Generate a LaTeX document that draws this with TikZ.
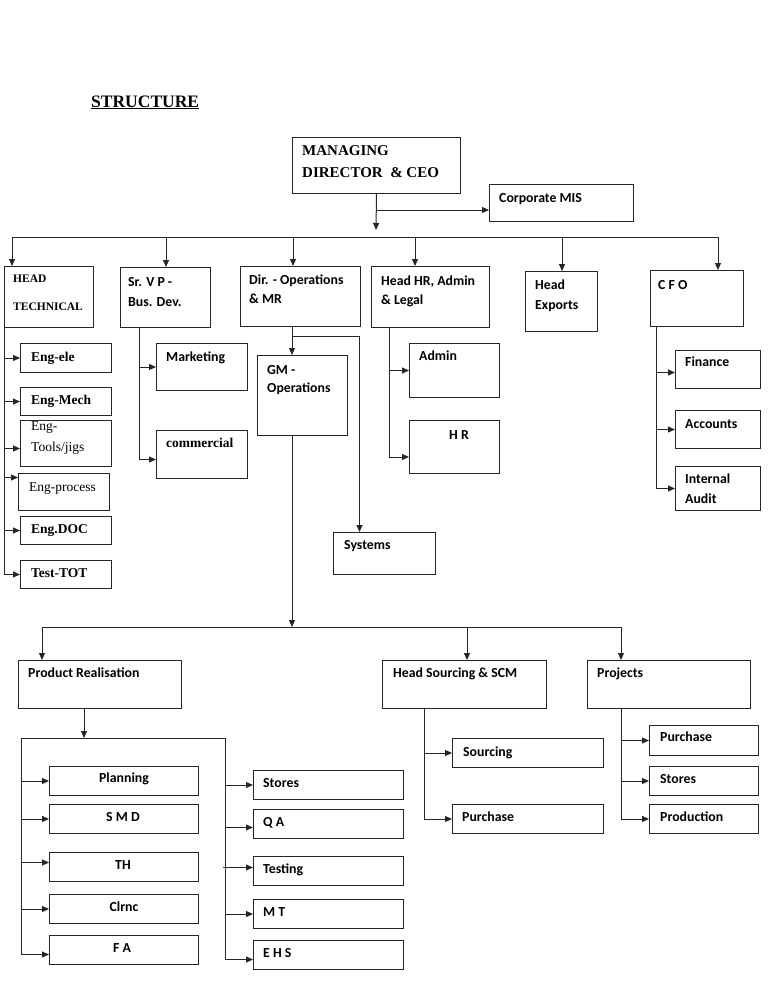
\documentclass[tikz,border=0pt]{standalone}
\usepackage{fontspec}
\setmainfont{Liberation Serif}
\newfontfamily\carlito{Carlito}
\usetikzlibrary{arrows.meta}
\tikzset{
  box/.style={draw=black!85, line width=1pt, anchor=north west, inner sep=0pt},
  ln/.style={draw=black!85, line width=1pt},
  arr/.style={ln, -{Triangle[length=7pt,width=6pt]}},
  txt/.style={anchor=base west, align=left, inner sep=0pt},
  cb/.style={txt, font=\carlito\bfseries\fontsize{13.8}{19.5}\selectfont},
  tb/.style={txt, font=\bfseries\fontsize{13.5}{21}\selectfont},
  tr/.style={txt, font=\fontsize{13.5}{21}\selectfont},
}
\begin{document}
\begin{tikzpicture}[x=1pt,y=-1pt]
    \useasboundingbox (0,0) rectangle (768,994);
    \node [txt, font=\bfseries\fontsize{17.5}{20}\selectfont] (title) at (91,107) {\underline{STRUCTURE}};
    % top level
    \node [box, minimum width=168pt, minimum height=56pt] (md) at (292,137) {};
    \node [txt, font=\bfseries\fontsize{15}{22}\selectfont] (md-t) at (302,177) {MANAGING\\DIRECTOR\ \ \& CEO};
    \node [box, minimum width=144pt, minimum height=37pt] (mis) at (489,184) {};
    \node [cb] (mis-t) at (499,202) {Corporate MIS};
    \node [box, minimum width=89pt, minimum height=61pt] (ht) at (4,266) {};
    \node [txt, font=\bfseries\fontsize{11.5}{28}\selectfont] (ht-t) at (13,310) {HEAD\\TECHNICAL};
    \node [box, minimum width=90pt, minimum height=60pt] (svp) at (120,267) {};
    \node [cb, font=\carlito\bfseries\fontsize{13.8}{20}\selectfont] (svp-t) at (128,306) {Sr. V P -\\Bus. Dev.};
    \node [box, minimum width=120pt, minimum height=60pt] (dop) at (240,266) {};
    \node [cb] (dop-t) at (249,303.5) {Dir. - Operations\\\& MR};
    \node [box, minimum width=118pt, minimum height=61pt] (hhr) at (371,266) {};
    \node [cb] (hhr-t) at (381,304.5) {Head HR, Admin\\\& Legal};
    \node [box, minimum width=72pt, minimum height=60pt] (hex) at (525,271) {};
    \node [cb, font=\carlito\bfseries\fontsize{13.8}{20}\selectfont] (hex-t) at (535,309) {Head\\Exports};
    \node [box, minimum width=93pt, minimum height=56pt] (cfo) at (650,270) {};
    \node [cb] (cfo-t) at (658,289) {C F O};
    % technical
    \node [box, minimum width=91pt, minimum height=29pt] (ele) at (20,343) {};
    \node [tb] (ele-t) at (31,361) {Eng-ele};
    \node [box, minimum width=91pt, minimum height=28pt] (mech) at (20,387) {};
    \node [tb] (mech-t) at (31,404) {Eng-Mech};
    \node [box, minimum width=91pt, minimum height=46pt] (tools) at (20,420) {};
    \node [tr] (tools-t) at (31,451) {Eng-\\Tools/jigs};
    \node [box, minimum width=91pt, minimum height=37pt] (proc) at (18,473) {};
    \node [tr] (proc-t) at (29,491) {Eng-process};
    \node [box, minimum width=91pt, minimum height=28pt] (doc) at (20,516) {};
    \node [tb] (doc-t) at (31,533) {Eng.DOC};
    \node [box, minimum width=91pt, minimum height=28pt] (tot) at (20,560) {};
    \node [tb] (tot-t) at (31,577) {Test-TOT};
    % bus. dev.
    \node [box, minimum width=91pt, minimum height=47pt] (mkt) at (156,343) {};
    \node [cb] (mkt-t) at (166,361.5) {Marketing};
    \node [box, minimum width=91pt, minimum height=48pt] (com) at (156,430) {};
    \node [tb] (com-t) at (166,447) {commercial};
    % operations
    \node [box, minimum width=90pt, minimum height=80pt] (gmo) at (257,355) {};
    \node [cb, font=\carlito\bfseries\fontsize{13.8}{18}\selectfont] (gmo-t) at (267,392.5) {GM -\\Operations};
    \node [box, minimum width=102pt, minimum height=42pt] (sys) at (333,532) {};
    \node [cb] (sys-t) at (344,549.5) {Systems};
    % hr
    \node [box, minimum width=90pt, minimum height=54pt] (adm) at (409,343) {};
    \node [cb] (adm-t) at (419,360.5) {Admin};
    \node [box, minimum width=90pt, minimum height=53pt] (hr) at (409,420) {};
    \node [cb, anchor=base] (hr-t) at (459,439.5) {H R};
    % cfo
    \node [box, minimum width=85pt, minimum height=38pt] (fin) at (675,350) {};
    \node [cb] (fin-t) at (685,366.5) {Finance};
    \node [box, minimum width=85pt, minimum height=38pt] (acc) at (675,410) {};
    \node [cb] (acc-t) at (685,428.5) {Accounts};
    \node [box, minimum width=85pt, minimum height=44pt] (ia) at (675,466) {};
    \node [cb, font=\carlito\bfseries\fontsize{13.8}{20}\selectfont] (ia-t) at (685,503.5) {Internal\\Audit};
    % under gm operations
    \node [box, minimum width=163pt, minimum height=48pt] (pr) at (18,660) {};
    \node [cb] (pr-t) at (28,677) {Product Realisation};
    \node [box, minimum width=164pt, minimum height=48pt] (hs) at (382,660) {};
    \node [cb] (hs-t) at (393,677.5) {Head Sourcing \& SCM};
    \node [box, minimum width=163pt, minimum height=48pt] (prj) at (587,660) {};
    \node [cb] (prj-t) at (597,677.5) {Projects};
    \node [box, minimum width=151pt, minimum height=29pt] (src) at (452,738) {};
    \node [cb] (src-t) at (463,756.5) {Sourcing};
    \node [box, minimum width=151pt, minimum height=29pt] (pur) at (452,804) {};
    \node [cb] (pur-t) at (462,821.5) {Purchase};
    \node [box, minimum width=109pt, minimum height=30pt] (ppur) at (649,725) {};
    \node [cb] (ppur-t) at (660,741.5) {Purchase};
    \node [box, minimum width=109pt, minimum height=29pt] (psto) at (649,766) {};
    \node [cb] (psto-t) at (660,783.5) {Stores};
    \node [box, minimum width=109pt, minimum height=29pt] (ppro) at (649,804) {};
    \node [cb] (ppro-t) at (660,821.5) {Production};
    % product realisation
    \node [box, minimum width=149pt, minimum height=29pt] (plan) at (49,766) {};
    \node [cb, anchor=base] (plan-t) at (124,782.5) {Planning};
    \node [box, minimum width=149pt, minimum height=29pt] (smd) at (49,804) {};
    \node [cb, anchor=base] (smd-t) at (123,821.5) {S M D};
    \node [box, minimum width=149pt, minimum height=29pt] (th) at (49,852) {};
    \node [cb, anchor=base] (th-t) at (123,869.5) {TH};
    \node [box, minimum width=149pt, minimum height=29pt] (clr) at (49,894) {};
    \node [cb, anchor=base] (clr-t) at (124,911.5) {Clrnc};
    \node [box, minimum width=149pt, minimum height=29pt] (fa) at (49,935) {};
    \node [cb, anchor=base] (fa-t) at (122,952.5) {F A};
    \node [box, minimum width=150pt, minimum height=29pt] (sto) at (253,770) {};
    \node [cb] (sto-t) at (263,787.5) {Stores};
    \node [box, minimum width=150pt, minimum height=29pt] (qa) at (253,809) {};
    \node [cb] (qa-t) at (263,826.5) {Q A};
    \node [box, minimum width=150pt, minimum height=29pt] (tst) at (253,856) {};
    \node [cb] (tst-t) at (263,873.5) {Testing};
    \node [box, minimum width=150pt, minimum height=29pt] (mt) at (253,899) {};
    \node [cb] (mt-t) at (263,916.5) {M T};
    \node [box, minimum width=150pt, minimum height=29pt] (ehs) at (253,940) {};
    \node [cb] (ehs-t) at (263,957.5) {E H S};
    % junctions
    \coordinate (mdj) at (376,210);
    \coordinate (mde) at (376,230);
    \coordinate (b1) at (12,237);
    \coordinate (b2) at (166,237);
    \coordinate (b3) at (293,237);
    \coordinate (b4) at (415,237);
    \coordinate (b5) at (562,237);
    \coordinate (b6) at (718,237);
    \coordinate (svpd) at (139,327);
    \coordinate (dopd) at (292,326);
    \coordinate (dopj) at (292,336);
    \coordinate (hhrd) at (389,327);
    \coordinate (cfod) at (656,326);
    \coordinate (c1) at (42,627);
    \coordinate (c2) at (292,627);
    \coordinate (c3) at (467,627);
    \coordinate (c4) at (621,627);
    \coordinate (prd) at (84,708);
    \coordinate (k1) at (21,738);
    \coordinate (k2) at (84,738);
    \coordinate (k3) at (225,738);
    \coordinate (hsd) at (424,708);
    \coordinate (prjd) at (621,708);
    % connectors
    \draw [arr] (md.south) -- (mde);
    \draw [arr] (mdj) -- (mdj -| mis.west);
    \draw [ln] (b1) -- (b6);
    \draw [arr] (b1) -- (b1 |- ht.north);
    \draw [arr] (b2) -- (b2 |- svp.north);
    \draw [arr] (b3) -- (b3 |- dop.north);
    \draw [arr] (b4) -- (b4 |- hhr.north);
    \draw [arr] (b5) -- (b5 |- hex.north);
    \draw [arr] (b6) -- (b6 |- cfo.north);
    \draw [arr] (ht.south west) |- (tot.west);
    \draw [arr] (ht.south west |- ele.west) -- (ele.west);
    \draw [arr] (ht.south west |- mech.west) -- (mech.west);
    \draw [arr] (ht.south west |- tools.west) ++(0,5) -- ([yshift=-5pt]tools.west);
    \draw [arr] ([yshift=14.5pt]proc.west -| ht.south west) -- ([yshift=14.5pt]proc.west);
    \draw [arr] (ht.south west |- doc.west) -- (doc.west);
    \draw [arr] (svpd) |- ([yshift=-5pt]com.west);
    \draw [arr] (svpd |- mkt.west) -- (mkt.west);
    \draw [arr] (dopd) -- (dopd |- gmo.north);
    \draw [arr] (dopj) -| ([xshift=-25pt]sys.north);
    \draw [arr] (hhrd) |- ([yshift=-10pt]hr.west);
    \draw [arr] (hhrd |- adm.west) -- (adm.west);
    \draw [arr] (cfod) |- (ia.west);
    \draw [arr] ([yshift=-3pt]fin.west -| cfod) -- ([yshift=-3pt]fin.west);
    \draw [arr] (cfod |- acc.west) -- (acc.west);
    \draw [arr] (c2 |- gmo.south) -- (c2);
    \draw [ln] (c1) -- (c4);
    \draw [arr] (c1) -- (c1 |- pr.north);
    \draw [arr] (c3) -- (c3 |- hs.north);
    \draw [arr] (c4) -- (c4 |- prj.north);
    \draw [arr] (prd) -- (k2);
    \draw [ln] (k1) -- (k3);
    \draw [arr] (k1) |- ([yshift=-4.5pt]fa.west);
    \draw [arr] (k1 |- plan.west) -- (plan.west);
    \draw [arr] (k1 |- smd.west) -- (smd.west);
    \draw [arr] ([yshift=4.5pt]th.west -| k1) -- ([yshift=4.5pt]th.west);
    \draw [arr] (k1 |- clr.west) -- (clr.west);
    \draw [arr] (k3) |- ([yshift=-4.5pt]ehs.west);
    \draw [arr] (k3 |- sto.west) -- (sto.west);
    \draw [arr] ([yshift=-3.5pt]qa.west -| k3) -- ([yshift=-3.5pt]qa.west);
    \draw [arr] ([yshift=3.5pt]tst.west -| k3) ++(-2,0) -- ([yshift=3.5pt]tst.west);
    \draw [arr] (k3 |- mt.west) -- (mt.west);
    \draw [arr] (hsd) |- (pur.west);
    \draw [arr] (hsd |- src.west) -- (src.west);
    \draw [arr] (prjd) |- (ppro.west);
    \draw [arr] (prjd |- ppur.west) -- (ppur.west);
    \draw [arr] (prjd |- psto.west) -- (psto.west);
\end{tikzpicture}
\end{document}
